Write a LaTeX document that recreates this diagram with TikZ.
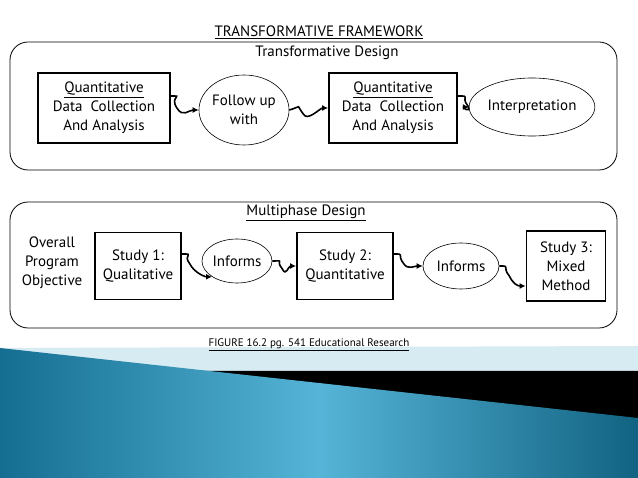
\documentclass[tikz,border=0pt]{standalone}
\usepackage{fontspec}
\setmainfont{PT Sans}
\usetikzlibrary{shapes.geometric,arrows.meta}
\definecolor{tealdark}{RGB}{20,110,145}
\definecolor{teallight}{RGB}{85,180,215}
\definecolor{palecyan}{RGB}{215,235,242}
\tikzset{
  frame/.style={draw, line width=0.8pt, rounded corners=18pt},
  rbox/.style={draw, line width=1.8pt, minimum width=#1, align=center, inner sep=1pt},
  oval/.style={draw, ellipse, line width=0.6pt, align=center, inner sep=0pt},
  txt/.style={font=\fontsize{15}{19}\selectfont},
  sq/.style={line width=1.6pt, -{Latex[length=6pt,width=6pt]}},
}
\begin{document}
\begin{tikzpicture}[x=1pt,y=-1pt]
\useasboundingbox (0,0) rectangle (638,478);
\fill[white] (0,0) rectangle (638,478);
% bottom decoration
\fill[palecyan] (0,348) -- (638,346) -- (638,372) -- (180,372) -- cycle;
\fill[black] (180,371) -- (638,371) -- (638,419) -- cycle;
\shade[left color=tealdark, right color=tealdark!90!black, middle color=teallight]
  (0,348) -- (638,418) -- (638,478) -- (0,478) -- cycle;

\node[font=\fontsize{15}{18}\selectfont] (title) at (319,32) {\underline{TRANSFORMATIVE FRAMEWORK}};

% top frame
\draw[frame] (10,42) rectangle (617,170);
\node[txt] (td) at (327,53) {Transformative Design};
\node[rbox=132pt, minimum height=70pt, txt] (qa) at (104,108) {\underline{Quantitative}\\Data~~Collection\\And Analysis};
\node[oval, minimum width=84pt, minimum height=70pt, txt] (fu) at (244,110) {Follow up\\with};
\node[rbox=128pt, minimum height=70pt, txt] (qb) at (393,108) {\underline{Quantitative}\\Data~~Collection\\And Analysis};
\node[oval, minimum width=108pt, minimum height=58pt, txt] (ip) at (532,107) {Interpretation};
\draw[sq] (qa.east) ++(0,-12) .. controls +(14,0) and +(-8,-12) .. ++(6,12) .. controls +(6,10) and +(-10,0) .. (fu.west);
\draw[sq] (fu.east) .. controls +(14,-4) and +(-8,-10) .. ++(14,4) .. controls +(4,8) and +(-8,0) .. (qb.west);
\draw[sq] (qb.east) ++(0,-12) .. controls +(14,0) and +(-8,-10) .. ++(10,10) .. controls +(4,8) and +(-8,0) .. (ip.west);

% bottom frame
\draw[frame] (10,202) rectangle (617,328);
\node[txt] (md) at (306,213) {\underline{Multiphase Design}};
\node[txt, align=center] (obj) at (52,263) {Overall\\Program\\Objective};
\node[rbox=86pt, minimum height=67pt, txt] (s1) at (138,266) {Study 1:\\Qualitative};
\node[oval, minimum width=70pt, minimum height=44pt, txt] (in1) at (237,261) {Informs};
\node[rbox=96pt, minimum height=67pt, txt] (s2) at (345,266) {Study 2:\\Quantitative};
\node[oval, minimum width=76pt, minimum height=46pt, txt] (in2) at (461,266) {Informs};
\node[rbox=79pt, minimum height=70pt, txt] (s3) at (566,266) {Study 3:\\Mixed\\Method};
\draw[sq] (s1.east) ++(0,-12) .. controls +(14,0) and +(-8,-10) .. ++(8,10) .. controls +(4,8) and +(-8,0) .. (in1.south west);
\draw[sq] (in1.east) .. controls +(14,0) and +(-8,-10) .. ++(10,8) .. controls +(4,8) and +(-8,0) .. (s2.west);
\draw[sq] (s2.east) ++(0,-12) .. controls +(12,0) and +(-8,-10) .. ++(10,10) .. controls +(4,6) and +(-8,0) .. (in2.west);
\draw[sq] (in2.east) .. controls +(12,0) and +(-8,-10) .. ++(10,10) .. controls +(4,8) and +(-8,0) .. (s3.west |- 287,286);

\node[font=\fontsize{11}{13}\selectfont] (cap) at (309,345) {\underline{FIGURE 16.2 pg. 541 Educational Research}};
\end{tikzpicture}
\end{document}
